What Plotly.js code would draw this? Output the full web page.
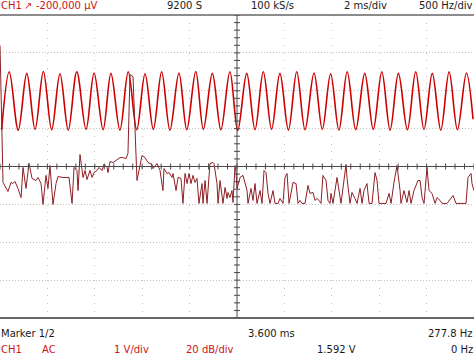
<!DOCTYPE html>
<html><head><meta charset="utf-8">
<script src="https://cdn.plot.ly/plotly-3.0.1.min.js"></script>
<style>html,body{margin:0;padding:0;background:#fff;}#chart{width:474px;height:355px;}</style>
</head><body><div id="chart"></div>
<script>
// Channel 1 time trace: read extremes (ms, V)
const timeMs = [-9.93,-9.61,-9.23,-8.87,-8.52,-8.17,-7.82,-7.47,-7.12,-6.76,-6.37,-6.03,-5.65,-5.32,-4.94,-4.59,-4.23,-3.88,-3.53,-3.18,-2.83,-2.45,-2.12,-1.74,-1.42,-1.04,-0.68,-0.30,0.03,0.41,0.76,1.11,1.46,1.81,2.17,2.52,2.87,3.25,3.60,3.95,4.30,4.65,5.01,5.39,5.75,6.11,6.46,6.81,7.19,7.54,7.89,8.24,8.60,8.95,9.30,9.68,9.96];
const voltage = [0.97,2.50,0.96,2.46,0.98,2.51,0.97,2.45,0.96,2.50,0.98,2.47,0.97,2.46,0.96,2.50,0.97,2.45,0.98,2.50,0.96,2.47,0.97,2.51,0.98,2.46,0.97,2.50,0.95,2.46,0.97,2.50,0.98,2.46,0.96,2.50,0.97,2.47,0.98,2.45,0.96,2.50,0.97,2.46,0.98,2.50,0.96,2.46,0.97,2.50,0.98,2.46,0.96,2.50,0.97,2.47,1.25];

// FFT trace (Hz, dB)
const freqHz = [0,32,84,116,137,158,190,222,243,274,306,338,380,401,433,454,485,506,527,559,591,612,665,728,760,781,812,823,844,876,897,918,949,971,992,1023,1044,1076,1097,1129,1139,1160,1192,1234,1266,1298,1329,1350,1371,1403,1445,1498,1530,1561,1603,1614,1656,1688,1719,1730,1762,1783,1814,1825,1857,1878,1909,1930,1952,1973,1994,2015,2036,2057,2078,2099,2131,2141,2163,2184,2215,2247,2257,2289,2300,2321,2352,2374,2395,2405,2426,2447,2458,2479,2490,2500,2532,2563,2585,2606,2616,2648,2669,2690,2711,2743,2764,2785,2806,2827,2848,2880,2901,2933,2954,2985,3006,3028,3049,3080,3091,3123,3144,3165,3186,3217,3249,3270,3302,3323,3344,3365,3386,3407,3439,3460,3481,3492,3513,3555,3576,3597,3650,3660,3692,3713,3745,3766,3798,3819,3840,3871,3893,3924,3956,3977,3998,4072,4104,4125,4156,4188,4220,4230,4262,4293,4315,4336,4367,4409,4431,4452,4473,4504,4526,4557,4589,4610,4642,4663,4715,4779,4810,4916,4937,4969,4979,5000];
const levelDb = [-16.1,-88.4,-93.2,-88.4,-89.0,-87.9,-91.6,-96.4,-80.5,-91.6,-78.4,-86.3,-87.4,-85.8,-89.0,-100,-84.7,-91.6,-79.5,-100,-89.0,-85.3,-85.8,-85.8,-99.5,-80.5,-82.1,-92.7,-73.7,-85.8,-82.1,-86.9,-82.1,-85.8,-83.2,-82.1,-80.5,-82.1,-78.9,-80.5,-83.2,-77.4,-77.9,-76.3,-75.3,-75.3,-75.8,-73.1,-31.5,-32.5,-87.4,-74.2,-75.3,-77.9,-78.9,-81.1,-78.4,-82.1,-92.7,-81.1,-83.7,-83.2,-85.8,-83.7,-92.7,-85.8,-86.3,-99.5,-83.7,-89.0,-83.7,-89.0,-84.7,-88.4,-86.3,-99.5,-89.0,-99.5,-87.4,-99.5,-78.4,-77.9,-78.4,-89.0,-99.5,-87.4,-99.5,-91.1,-96.9,-93.7,-96.4,-92.7,-99.0,-79.5,-83.2,-91.6,-85.8,-84.7,-88.4,-92.7,-99.5,-91.6,-97.9,-89.0,-99.5,-92.7,-99.5,-82.1,-83.2,-94.2,-99.5,-92.7,-99.5,-99.5,-96.9,-99.5,-85.8,-83.7,-99.5,-90.0,-88.4,-89.0,-99.5,-97.9,-99.5,-99.5,-90.0,-94.2,-93.7,-97.9,-96.9,-97.9,-99.5,-84.7,-87.4,-97.9,-99.5,-94.2,-99.5,-85.8,-92.7,-99.5,-78.9,-85.8,-99.5,-93.7,-96.9,-99.5,-91.6,-99.5,-92.7,-89.0,-99.5,-99.5,-83.2,-87.4,-99.5,-99.5,-94.2,-99.5,-88.4,-79.5,-92.7,-99.5,-92.7,-99.0,-92.7,-99.5,-92.7,-87.4,-87.4,-96.4,-99.5,-80.5,-92.7,-94.2,-99.5,-96.4,-97.9,-99.5,-99.5,-95.3,-99.5,-99.5,-85.8,-83.7,-89.0,-92.7];

const topLabels = ["CH1", "↗", "-200,000 µV", "9200 S", "100 kS/s", "2 ms/div", "500 Hz/div"];
const markerLabels = ["Marker 1/2", "3.600 ms", "277.8 Hz"];
const channelLabels = ["CH1", "AC", "1 V/div", "20 dB/div", "1.592 V", "0 Hz"];

const RED = '#cc1414', BLACK = '#1a1a1a', FONT = 'DejaVu Sans, sans-serif';
const W = 474, H = 355, T = 15, B = 37, PH = H - T - B;
function py(pix){ return (H - B - pix) / PH; }
function ann(text, xpix, ypix, anchor, color){
  return {text:text, xref:'paper', yref:'paper', x:xpix / W, y:py(ypix), xanchor:anchor, yanchor:'middle',
    showarrow:false, font:{family:FONT, size:10, color:color}, borderpad:0};
}
const annotations = [
  ann(topLabels[0], 0, 5, 'left', RED), ann(topLabels[1], 23, 5, 'left', RED), ann(topLabels[2], 35, 5, 'left', RED),
  ann(topLabels[3], 166, 5, 'left', BLACK), ann(topLabels[4], 250, 5, 'left', BLACK), ann(topLabels[5], 343, 5, 'left', BLACK),
  ann(topLabels[6], 474, 5, 'right', BLACK),
  ann(markerLabels[0], 0, 333, 'left', BLACK), ann(markerLabels[1], 247, 333, 'left', BLACK), ann(markerLabels[2], 474, 333, 'right', BLACK),
  ann(channelLabels[0], 0, 349, 'left', RED), ann(channelLabels[1], 41, 349, 'left', RED), ann(channelLabels[2], 113, 349, 'left', RED),
  ann(channelLabels[3], 185, 349, 'left', RED), ann(channelLabels[4], 316, 349, 'left', BLACK), ann(channelLabels[5], 474, 349, 'right', BLACK)
];

const AX = '#4a4a4a';
const shapes = [
  {type:'line', xref:'paper', yref:'y', x0:0, x1:1, y0:0, y1:0, line:{color:AX, width:1}},
  {type:'line', xref:'x', yref:'paper', x0:0, x1:0, y0:0, y1:1, line:{color:AX, width:1}},
  {type:'line', xref:'paper', yref:'paper', x0:0, x1:1, y0:1, y1:1, line:{color:'#666', width:1.5}},
  {type:'line', xref:'paper', yref:'paper', x0:0, x1:1, y0:0, y1:0, line:{color:'#666', width:2}}
];
const tx = 3 * 20 / W, ty = 3 * 8 / PH;
for (let i = -25; i <= 25; i++) {
  const x = i * 0.4;
  shapes.push({type:'line', xref:'x', yref:'y', x0:x, x1:x, y0:-ty, y1:ty, line:{color:AX, width:1}});
}
for (let j = -20; j <= 20; j++) {
  const y = j * 0.2;
  shapes.push({type:'line', xref:'x', yref:'y', x0:-tx, x1:tx, y0:y, y1:y, line:{color:AX, width:1}});
}

const traces = [
  {x:freqHz, y:levelDb, xaxis:'x2', yaxis:'y2', type:'scatter', mode:'lines', line:{color:'#8e1f24', width:1}, hoverinfo:'skip'},
  {x:timeMs, y:voltage, xaxis:'x', yaxis:'y', type:'scatter', mode:'lines', line:{color:'#cc0000', width:1.6, shape:'spline', smoothing:1}, hoverinfo:'skip'}
];

const layout = {
  width:W, height:H, margin:{l:0, r:0, t:T, b:B, pad:0},
  paper_bgcolor:'#fff', plot_bgcolor:'#fff', showlegend:false,
  xaxis:{range:[-10,10], tick0:0, dtick:2, showgrid:true, gridcolor:'#c2c2c2', gridwidth:1, griddash:'1px,6.58px',
    zeroline:false, showticklabels:false, ticks:'', showline:false},
  yaxis:{range:[-4,4], tick0:0, dtick:1, showgrid:true, gridcolor:'#c2c2c2', gridwidth:1, griddash:'1px,2px',
    zeroline:false, showticklabels:false, ticks:'', showline:false},
  xaxis2:{overlaying:'x', anchor:'y2', range:[0,5000], visible:false, showgrid:false, zeroline:false},
  yaxis2:{overlaying:'y', anchor:'x2', range:[-160,0], visible:false, showgrid:false, zeroline:false},
  shapes:shapes, annotations:annotations
};
Plotly.newPlot('chart', traces, layout, {staticPlot:true, displayModeBar:false});
</script></body></html>
